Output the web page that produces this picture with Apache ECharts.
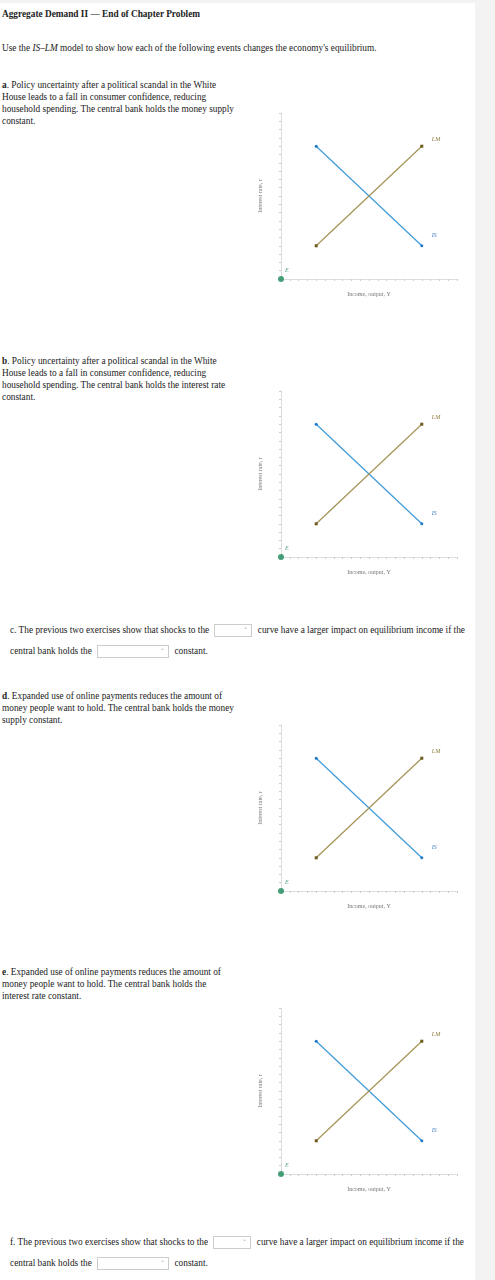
<!DOCTYPE html>
<html><head><meta charset="utf-8">
<script src="https://cdn.jsdelivr.net/npm/echarts@6/dist/echarts.min.js"></script>
<style>
body{margin:0;background:#f3f3f3;font-family:"Liberation Serif","DejaVu Serif",serif;color:#222;}
#page{position:absolute;left:0;top:3px;width:475px;height:1277px;background:#fff;}
.t{position:absolute;left:2px;font-size:9.3px;line-height:12px;white-space:nowrap}
.sel{display:inline-block;width:36px;height:11px;border:1px solid #ccc;vertical-align:middle;margin:0 3px;position:relative}
.sel:after{content:"⌄";position:absolute;right:3px;top:-4px;font-size:6px;color:#aaa}
#main{position:absolute;left:0;top:0;width:495px;height:1280px;}
</style></head><body>
<div id="page"></div>
<div class="t" style="top:8px;font-weight:bold">Aggregate Demand II — End of Chapter Problem</div>
<div class="t" style="top:42px">Use the <i>IS–LM</i> model to show how each of the following events changes the economy's equilibrium.</div>
<div class="t" style="top:79px"><b>a</b>. Policy uncertainty after a political scandal in the White<br>House leads to a fall in consumer confidence, reducing<br>household spending. The central bank holds the money supply<br>constant.</div>
<div class="t" style="top:355px"><b>b</b>. Policy uncertainty after a political scandal in the White<br>House leads to a fall in consumer confidence, reducing<br>household spending. The central bank holds the interest rate<br>constant.</div>
<div class="t" style="top:624px;left:10px">c. The previous two exercises show that shocks to the <span class="sel"></span> curve have a larger impact on equilibrium income if the</div>
<div class="t" style="top:645px;left:10px">central bank holds the <span class="sel" style="width:70px"></span> constant.</div>
<div class="t" style="top:690px"><b>d</b>. Expanded use of online payments reduces the amount of<br>money people want to hold. The central bank holds the money<br>supply constant.</div>
<div class="t" style="top:966px"><b>e</b>. Expanded use of online payments reduces the amount of<br>money people want to hold. The central bank holds the<br>interest rate constant.</div>
<div class="t" style="top:1236px;left:10px">f. The previous two exercises show that shocks to the <span class="sel"></span> curve have a larger impact on equilibrium income if the</div>
<div class="t" style="top:1257px;left:10px">central bank holds the <span class="sel" style="width:70px"></span> constant.</div>
<div id="main"></div>
<script>
var isX = [2, 8];
var isY = [8, 2];
var lmX = [2, 8];
var lmY = [2, 8];
var ePoint = [0, 0];
var chartTops = [113, 391, 725, 1008];

var myChart = echarts.init(document.getElementById('main'));
var grids = [], xAxes = [], yAxes = [], series = [];
function pairs(xs, ys) { return xs.map(function (x, i) { return [x, ys[i]]; }); }
var nameStyle = {fontFamily: 'Liberation Serif', fontSize: 6, color: '#777'};
chartTops.forEach(function (top, k) {
    grids.push({left: 281, top: top, width: 176, height: 166});
    xAxes.push({gridIndex: k, type: 'value', min: 0, max: 10, interval: 0.5,
        name: 'Income, output, Y', nameLocation: 'middle', nameGap: 12, nameTextStyle: nameStyle,
        axisLine: {lineStyle: {color: '#ddd'}}, axisTick: {show: true, length: 2, lineStyle: {color: '#ccc'}},
        axisLabel: {show: false}, splitLine: {show: false}});
    yAxes.push({gridIndex: k, type: 'value', min: 0, max: 10, interval: 0.5,
        name: 'Interest rate, r', nameLocation: 'middle', nameGap: 18, nameTextStyle: nameStyle,
        axisLine: {show: true, lineStyle: {color: '#ddd'}}, axisTick: {show: true, length: 2, lineStyle: {color: '#ccc'}},
        axisLabel: {show: false}, splitLine: {show: false}});
    series.push({type: 'line', xAxisIndex: k, yAxisIndex: k, data: pairs(isX, isY),
        lineStyle: {color: '#3d9ad9', width: 1.2}, symbol: 'circle', symbolSize: 3,
        itemStyle: {color: '#1f78c8'},
        endLabel: {show: true, formatter: 'IS', fontFamily: 'Liberation Serif', fontStyle: 'italic', fontSize: 6, color: '#3d7fb8', offset: [2, -10]}});
    series.push({type: 'line', xAxisIndex: k, yAxisIndex: k, data: pairs(lmX, lmY),
        lineStyle: {color: '#a39354', width: 1.2}, symbol: 'rect', symbolSize: 3,
        itemStyle: {color: '#6e5a1e'},
        endLabel: {show: true, formatter: 'LM', fontFamily: 'Liberation Serif', fontStyle: 'italic', fontSize: 6, color: '#8a7a3a', offset: [2, -7]}});
    series.push({type: 'scatter', xAxisIndex: k, yAxisIndex: k, data: [ePoint],
        symbolSize: 6, itemStyle: {color: '#1b8a5a'},
        label: {show: true, formatter: 'E', position: [7, -9], fontFamily: 'Liberation Serif', fontStyle: 'italic', fontSize: 6, color: '#1b8a5a'}});
});
myChart.setOption({grid: grids, xAxis: xAxes, yAxis: yAxes, series: series, animation: false});
</script>
</body></html>
